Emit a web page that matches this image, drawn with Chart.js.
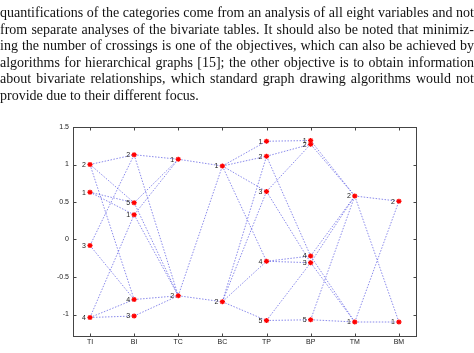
<!DOCTYPE html>
<html>
<head>
<meta charset="utf-8">
<script src="https://cdn.jsdelivr.net/npm/chart.js@4.4.0/dist/chart.umd.min.js"></script>
<style>
  html, body { margin: 0; padding: 0; background: #fff; }
  body { width: 474px; height: 353px; position: relative; overflow: hidden; }
  #chart { position: absolute; left: 0; top: 0; }
  .para {
    position: absolute; left: 0; top: 5px; width: 474px;
    font-family: 'Liberation Serif', serif; font-size: 14px; line-height: 16.6px; color: #111;
  }
  .para div { text-align: justify; text-align-last: justify; white-space: nowrap; }
  .para div.last { text-align-last: left; }
</style>
</head>
<body>
<canvas id="chart" width="474" height="353"></canvas>
<div class="para">
  <div>quantifications of the categories come from an analysis of all eight variables and not</div>
  <div>from separate analyses of the bivariate tables. It should also be noted that minimiz-</div>
  <div>ing the number of crossings is one of the objectives, which can also be achieved by</div>
  <div>algorithms for hierarchical graphs [15]; the other objective is to obtain information</div>
  <div>about bivariate relationships, which standard graph drawing algorithms would not</div>
  <div class="last">provide due to their different focus.</div>
</div>
<script>
const variables = ['TI', 'BI', 'TC', 'BC', 'TP', 'BP', 'TM', 'BM'];

// Quantifications par variable, index = numéro de catégorie - 1
const TI = [0.63, 1.00, -0.08, -1.04];
const BI = [0.33, 1.13, -1.02, -0.80, 0.49];
const TC = [1.07, -0.75];
const BC = [0.98, -0.83];
const TP = [1.31, 1.11, 0.64, -0.29, -1.08];
const BP = [1.32, 1.27, -0.31, -0.22, -1.07];
const TM = [-1.10, 0.58];
const BM = [-1.10, 0.51];
const quant = [TI, BI, TC, BC, TP, BP, TM, BM];

// Liens entre variables voisines : [catégorie gauche, catégorie droite]
const linksTI_BI = [[2, 2], [2, 5], [2, 4], [1, 5], [1, 1], [3, 2], [3, 4], [4, 1], [4, 4], [4, 3]];
const linksBI_TC = [[2, 1], [5, 1], [1, 1], [2, 2], [5, 2], [1, 2], [4, 2], [3, 2]];
const linksTC_BC = [[1, 1], [2, 2], [2, 1]];
const linksBC_TP = [[1, 1], [1, 2], [1, 3], [1, 4], [2, 2], [2, 3], [2, 4], [2, 5]];
const linksTP_BP = [[1, 1], [2, 2], [3, 2], [2, 4], [3, 3], [4, 4], [4, 3], [5, 5], [5, 3]];
const linksBP_TM = [[1, 2], [2, 2], [4, 2], [3, 2], [5, 2], [4, 1], [3, 1], [5, 1]];
const linksTM_BM = [[2, 2], [1, 1], [2, 1], [1, 2]];
const links = [linksTI_BI, linksBI_TC, linksTC_BC, linksBC_TP, linksTP_BP, linksBP_TM, linksTM_BM];

const yTicks = [-1, -0.5, 0, 0.5, 1, 1.5];

const datasets = [];

// Segments en pointillés bleus
links.forEach((pairs, v) => {
    pairs.forEach(([a, b]) => {
        datasets.push({
            data: [
                { x: v + 1, y: quant[v][a - 1] },
                { x: v + 2, y: quant[v + 1][b - 1] }
            ],
            showLine: true,
            borderColor: 'rgba(75, 75, 225, 0.65)',
            borderWidth: 1,
            borderDash: [1.5, 1.5],
            pointRadius: 0,
            order: 2
        });
    });
});

// Points des catégories
const points = [];
quant.forEach((vals, v) => {
    vals.forEach((q, i) => points.push({ x: v + 1, y: q, cat: i + 1 }));
});
datasets.push({
    data: points,
    pointStyle: 'star',
    pointRadius: 2.6,
    borderColor: '#ff0000',
    backgroundColor: '#ff0000',
    borderWidth: 1.3,
    order: 0
});
const pointIndex = datasets.length - 1;

// Cadre, graduations intérieures et numéros des catégories
const frame = {
    id: 'frame',
    afterDatasetsDraw(chart) {
        const { ctx, chartArea: a, scales: { x, y } } = chart;
        ctx.save();
        ctx.strokeStyle = '#444';
        ctx.lineWidth = 1;
        const l = Math.round(a.left) + 0.5, r = Math.round(a.right) - 0.5;
        const t = Math.round(a.top) + 0.5, b = Math.round(a.bottom) - 0.5;
        ctx.strokeRect(l, t, r - l, b - t);
        ctx.beginPath();
        variables.forEach((name, i) => {
            const px = Math.round(x.getPixelForValue(i + 1)) + 0.5;
            ctx.moveTo(px, b); ctx.lineTo(px, b - 3);
            ctx.moveTo(px, t); ctx.lineTo(px, t + 3);
        });
        yTicks.forEach(v => {
            const py = Math.round(y.getPixelForValue(v)) + 0.5;
            ctx.moveTo(l, py); ctx.lineTo(l + 3, py);
            ctx.moveTo(r, py); ctx.lineTo(r - 3, py);
        });
        ctx.stroke();

        ctx.fillStyle = '#222';
        ctx.font = '7px "Liberation Sans", Arial, sans-serif';
        ctx.textAlign = 'right';
        ctx.textBaseline = 'middle';
        const meta = chart.getDatasetMeta(pointIndex);
        meta.data.forEach((el, i) => {
            ctx.fillText(String(points[i].cat), el.x - 4, el.y + 0.5);
        });
        ctx.restore();
    }
};

new Chart(document.getElementById('chart'), {
    type: 'scatter',
    data: { datasets: datasets },
    options: {
        responsive: false,
        animation: false,
        layout: { padding: { top: 127, right: 57, left: 0, bottom: 0 } },
        plugins: { legend: { display: false }, tooltip: { enabled: false } },
        scales: {
            x: {
                type: 'linear',
                min: 0.615,
                max: 8.41,
                afterBuildTicks(s) { s.ticks = variables.map((n, i) => ({ value: i + 1 })); },
                afterFit(s) { s.height = 16; },
                grid: { display: false, drawTicks: false },
                border: { display: false },
                ticks: {
                    padding: 1,
                    color: '#222',
                    font: { family: '"Liberation Sans", Arial, sans-serif', size: 7 },
                    callback: v => variables[v - 1]
                }
            },
            y: {
                type: 'linear',
                min: -1.3,
                max: 1.5,
                afterBuildTicks(s) { s.ticks = yTicks.map(v => ({ value: v })); },
                afterFit(s) { s.width = 73; },
                grid: { display: false, drawTicks: false },
                border: { display: false },
                ticks: {
                    padding: 4,
                    color: '#222',
                    font: { family: '"Liberation Sans", Arial, sans-serif', size: 7 },
                    callback: v => String(v)
                }
            }
        }
    },
    plugins: [frame]
});
</script>
</body>
</html>
